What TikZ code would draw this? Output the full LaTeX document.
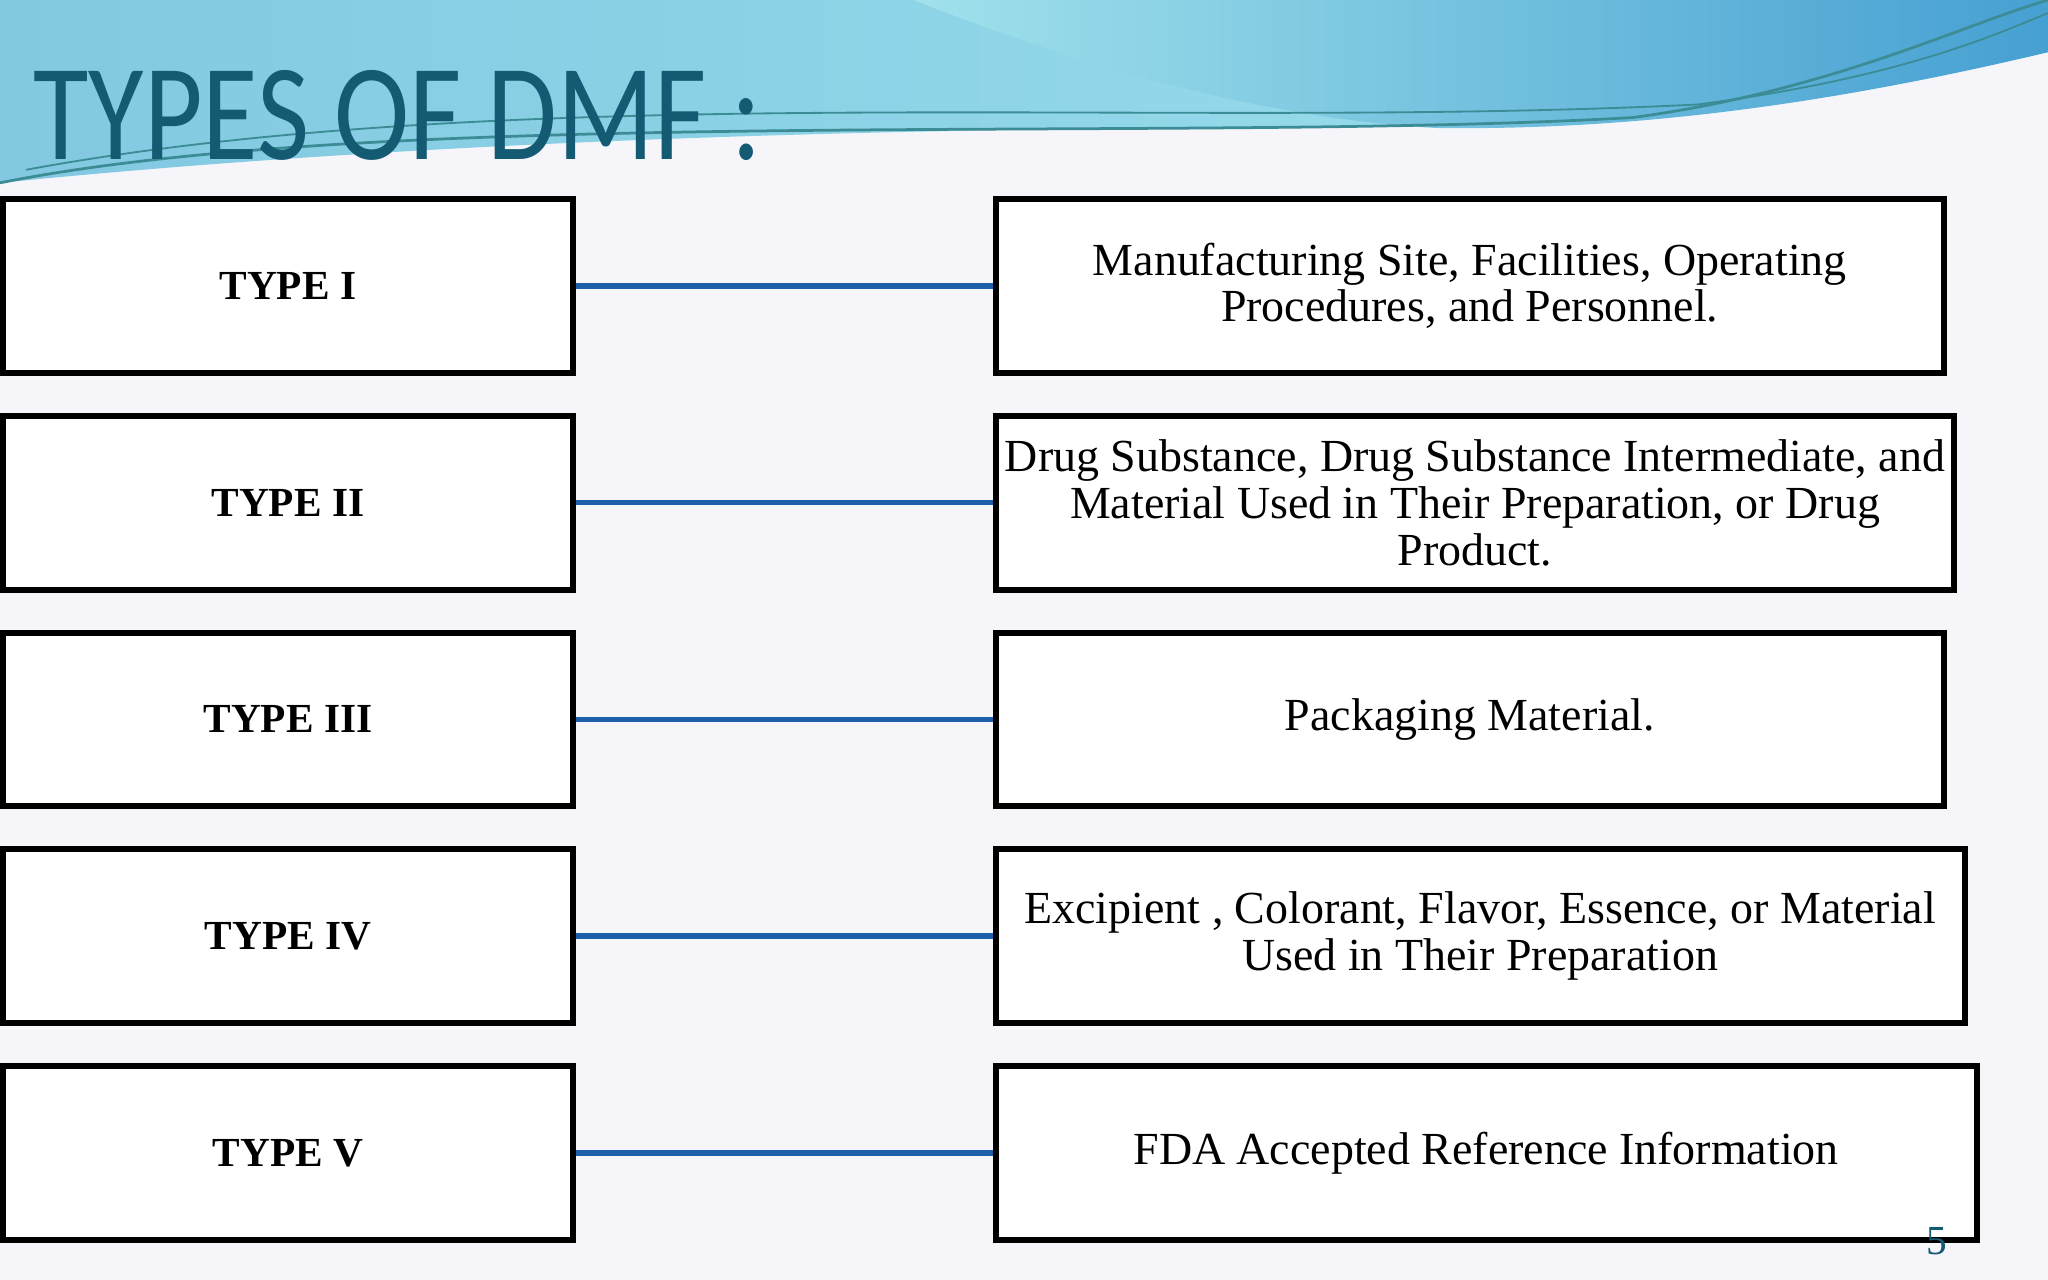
\documentclass[tikz,border=0pt]{standalone}
\usepackage{fontspec}
\setmainfont{Liberation Serif}
\newfontfamily\titlefont{Carlito}
\definecolor{bgc}{RGB}{246,246,250}
\definecolor{wa}{RGB}{130,200,225}
\definecolor{wb}{RGB}{150,220,235}
\definecolor{wc}{RGB}{160,225,235}
\definecolor{wd}{RGB}{70,160,210}
\definecolor{wl}{RGB}{60,140,150}
\definecolor{ttl}{RGB}{20,90,115}
\definecolor{lnk}{RGB}{30,95,170}
\begin{document}
\begin{tikzpicture}[x=0.01cm,y=-0.01cm,
  lbox/.style={draw=black,line width=1.3pt,fill=white,inner sep=0pt,font=\bfseries\fontsize{9}{10}\selectfont},
  rbox/.style={draw=black,line width=1.3pt,fill=white,inner sep=0pt,align=center,font=\fontsize{10}{10.2}\selectfont},
  link/.style={draw=lnk,line width=1.2pt}]
\fill[bgc] (0,0) rectangle (1568,980);
\useasboundingbox (0,0) rectangle (1568,980);
\shade[left color=wa,right color=wb]
 (0,0) -- (700,0) .. controls (850,60) and (1000,90) .. (1200,95) .. controls (1000,100) and (500,90) .. (0,140) -- cycle;
\shade[left color=wc,right color=wd]
 (700,0) -- (1568,0) -- (1568,40) .. controls (1400,80) and (1250,100) .. (1100,98) .. controls (950,90) and (800,40) .. (700,0) -- cycle;
\draw[wl,line width=0.6pt] (0,140) .. controls (300,80) and (900,110) .. (1250,90) .. controls (1400,70) and (1500,20) .. (1568,0);
\draw[wl,line width=0.4pt] (20,130) .. controls (400,60) and (900,100) .. (1300,80) .. controls (1450,60) and (1520,30) .. (1568,10);
\node[anchor=base west,inner sep=0pt,text=ttl,font=\titlefont\fontsize{26}{26}\selectfont] (title) at (25,122) {\scalebox{0.95}[1.15]{TYPES OF DMF :}};
\foreach \i/\y/\r/\lab/\txt in {1/150/1486/TYPE I/{Manufacturing Site, Facilities, Operating\\Procedures, and Personnel.},
  2/316/1494/TYPE II/{Drug Substance, Drug Substance Intermediate, and\\Material Used in Their Preparation, or Drug\\Product.},
  3/482/1486/TYPE III/{Packaging Material.},
  4/648/1502/TYPE IV/{Excipient , Colorant, Flavor, Essence, or Material\\Used in Their Preparation},
  5/814/1511/TYPE V/{FDA Accepted Reference Information}}{
  \node[lbox,minimum width=4.36cm,minimum height=1.33cm,anchor=north west] (l\i) at (0,\y) {\lab};
  \node[rbox,minimum width={(\r-760)*0.01cm},minimum height=1.33cm,anchor=north west] (r\i) at (760,\y) {\txt};
  \draw[link] (l\i.east) -- (r\i.west);
}
\node[text=ttl,font=\fontsize{9}{9}\selectfont] (pg) at (1483,950) {5};
\end{tikzpicture}
\end{document}
